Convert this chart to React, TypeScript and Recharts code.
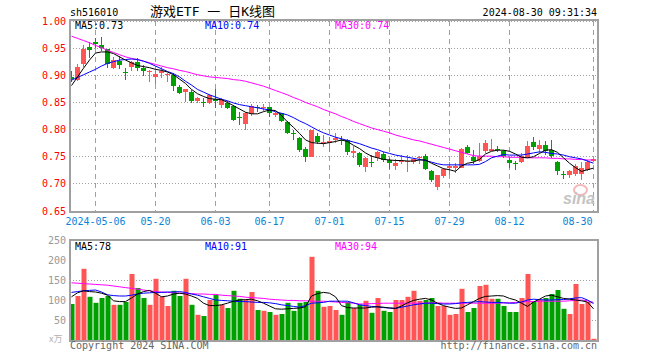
import { Bar, CartesianGrid, Cell, ComposedChart, Line, XAxis, YAxis } from "recharts";

const DATES = [
  "2024-04-25", "2024-04-26", "2024-04-29", "2024-04-30",
  "2024-05-06", "2024-05-07", "2024-05-08", "2024-05-09", "2024-05-10",
  "2024-05-13", "2024-05-14", "2024-05-15", "2024-05-16", "2024-05-17",
  "2024-05-20", "2024-05-21", "2024-05-22", "2024-05-23", "2024-05-24",
  "2024-05-27", "2024-05-28", "2024-05-29", "2024-05-30", "2024-05-31",
  "2024-06-03", "2024-06-04", "2024-06-05", "2024-06-06", "2024-06-07",
  "2024-06-11", "2024-06-12", "2024-06-13", "2024-06-14",
  "2024-06-17", "2024-06-18", "2024-06-19", "2024-06-20", "2024-06-21",
  "2024-06-24", "2024-06-25", "2024-06-26", "2024-06-27", "2024-06-28",
  "2024-07-01", "2024-07-02", "2024-07-03", "2024-07-04", "2024-07-05",
  "2024-07-08", "2024-07-09", "2024-07-10", "2024-07-11", "2024-07-12",
  "2024-07-15", "2024-07-16", "2024-07-17", "2024-07-18", "2024-07-19",
  "2024-07-22", "2024-07-23", "2024-07-24", "2024-07-25", "2024-07-26",
  "2024-07-29", "2024-07-30", "2024-07-31", "2024-08-01", "2024-08-02",
  "2024-08-05", "2024-08-06", "2024-08-07", "2024-08-08", "2024-08-09",
  "2024-08-12", "2024-08-13", "2024-08-14", "2024-08-15", "2024-08-16",
  "2024-08-19", "2024-08-20", "2024-08-21", "2024-08-22", "2024-08-23",
  "2024-08-26", "2024-08-27", "2024-08-28", "2024-08-29", "2024-08-30",
];

const TICK_DATES = [
  "2024-05-06", "2024-05-20", "2024-06-03", "2024-06-17", "2024-07-01",
  "2024-07-15", "2024-07-29", "2024-08-12", "2024-08-30",
];

const PRICE_TICKS = [0.65, 0.7, 0.75, 0.8, 0.85, 0.9, 0.95, 1.0];
const VOLUME_TICKS = [50, 100, 150, 200, 250];

const OPEN = [
  0.897, 0.892, 0.921, 0.953, 0.962, 0.955, 0.948, 0.913, 0.927, 0.906,
  0.916, 0.925, 0.914, 0.906, 0.896, 0.904, 0.9, 0.9, 0.879, 0.87,
  0.87, 0.853, 0.851, 0.849, 0.857, 0.846, 0.849, 0.843, 0.823, 0.811,
  0.829, 0.842, 0.839, 0.841, 0.826, 0.83, 0.814, 0.793, 0.784, 0.765,
  0.75, 0.788, 0.776, 0.775, 0.781, 0.781, 0.781, 0.756, 0.757, 0.731,
  0.74, 0.747, 0.755, 0.744, 0.733, 0.74, 0.74, 0.741, 0.747, 0.752,
  0.723, 0.695, 0.714, 0.73, 0.729, 0.73, 0.767, 0.75, 0.743, 0.76,
  0.76, 0.765, 0.76, 0.744, 0.739, 0.74, 0.749, 0.777, 0.765, 0.771,
  0.763, 0.741, 0.718, 0.717, 0.718, 0.718, 0.726, 0.743,
];
const HIGH = [
  0.907, 0.92, 0.955, 0.962, 0.968, 0.97, 0.949, 0.933, 0.935, 0.914,
  0.927, 0.932, 0.919, 0.91, 0.908, 0.915, 0.905, 0.904, 0.882, 0.875,
  0.873, 0.86, 0.858, 0.865, 0.874, 0.858, 0.852, 0.846, 0.833, 0.833,
  0.847, 0.845, 0.847, 0.841, 0.833, 0.831, 0.816, 0.8, 0.787, 0.768,
  0.8, 0.794, 0.79, 0.787, 0.794, 0.788, 0.782, 0.77, 0.759, 0.75,
  0.753, 0.761, 0.759, 0.747, 0.745, 0.754, 0.753, 0.747, 0.751, 0.755,
  0.726, 0.717, 0.73, 0.741, 0.738, 0.766, 0.772, 0.763, 0.775, 0.781,
  0.783, 0.769, 0.763, 0.75, 0.743, 0.757, 0.779, 0.787, 0.781, 0.779,
  0.781, 0.743, 0.723, 0.726, 0.736, 0.741, 0.744, 0.748,
];
const LOW = [
  0.888, 0.889, 0.916, 0.932, 0.95, 0.945, 0.914, 0.912, 0.912, 0.892,
  0.907, 0.907, 0.898, 0.888, 0.884, 0.895, 0.888, 0.871, 0.865, 0.85,
  0.849, 0.849, 0.841, 0.847, 0.84, 0.839, 0.838, 0.816, 0.809, 0.799,
  0.825, 0.833, 0.835, 0.824, 0.824, 0.814, 0.792, 0.781, 0.759, 0.741,
  0.749, 0.773, 0.768, 0.759, 0.776, 0.771, 0.753, 0.747, 0.731, 0.722,
  0.731, 0.743, 0.741, 0.728, 0.725, 0.736, 0.722, 0.736, 0.736, 0.726,
  0.703, 0.689, 0.711, 0.717, 0.72, 0.729, 0.755, 0.737, 0.741, 0.757,
  0.76, 0.758, 0.748, 0.729, 0.726, 0.738, 0.748, 0.763, 0.757, 0.754,
  0.748, 0.717, 0.709, 0.711, 0.714, 0.708, 0.723, 0.74,
];
const CLOSE = [
  0.893, 0.916, 0.949, 0.947, 0.957, 0.951, 0.92, 0.928, 0.919, 0.905,
  0.925, 0.914, 0.907, 0.908, 0.902, 0.907, 0.902, 0.881, 0.867, 0.874,
  0.853, 0.858, 0.85, 0.864, 0.853, 0.855, 0.84, 0.818, 0.822, 0.83,
  0.843, 0.841, 0.842, 0.83, 0.831, 0.816, 0.794, 0.792, 0.762, 0.75,
  0.799, 0.778, 0.777, 0.779, 0.784, 0.78, 0.759, 0.761, 0.735, 0.747,
  0.739, 0.759, 0.744, 0.738, 0.739, 0.743, 0.743, 0.745, 0.75, 0.728,
  0.708, 0.716, 0.728, 0.732, 0.732, 0.765, 0.757, 0.743, 0.751, 0.775,
  0.764, 0.764, 0.751, 0.738, 0.738, 0.751, 0.769, 0.767, 0.772, 0.761,
  0.751, 0.723, 0.717, 0.724, 0.732, 0.729, 0.741, 0.746,
];

const MA5 = [
  0.881, 0.897, 0.913, 0.928, 0.941, 0.943, 0.943, 0.94, 0.934, 0.928,
  0.923, 0.918, 0.916, 0.914, 0.911, 0.909, 0.906, 0.901, 0.893, 0.885,
  0.874, 0.866, 0.861, 0.857, 0.856, 0.855, 0.85, 0.844, 0.838, 0.832,
  0.829, 0.829, 0.833, 0.836, 0.835, 0.826, 0.814, 0.804, 0.793, 0.781,
  0.776, 0.775, 0.774, 0.776, 0.778, 0.781, 0.778, 0.771, 0.765, 0.757,
  0.751, 0.748, 0.745, 0.744, 0.743, 0.743, 0.742, 0.742, 0.744, 0.744,
  0.738, 0.733, 0.728, 0.726, 0.723, 0.733, 0.738, 0.74, 0.745, 0.755,
  0.76, 0.762, 0.762, 0.76, 0.755, 0.749, 0.748, 0.75, 0.756, 0.762,
  0.763, 0.758, 0.748, 0.738, 0.73, 0.723, 0.726, 0.729,
];
const MA10 = [
  0.891, 0.896, 0.901, 0.906, 0.911, 0.917, 0.922, 0.925, 0.928, 0.929,
  0.93, 0.929, 0.926, 0.922, 0.917, 0.912, 0.907, 0.903, 0.897, 0.889,
  0.882, 0.874, 0.869, 0.864, 0.86, 0.856, 0.853, 0.849, 0.846, 0.844,
  0.842, 0.84, 0.838, 0.836, 0.833, 0.83, 0.827, 0.822, 0.816, 0.811,
  0.805, 0.799, 0.794, 0.79, 0.786, 0.783, 0.78, 0.777, 0.774, 0.77,
  0.766, 0.763, 0.759, 0.756, 0.753, 0.751, 0.749, 0.747, 0.745, 0.743,
  0.74, 0.737, 0.735, 0.735, 0.735, 0.735, 0.735, 0.735, 0.736, 0.741,
  0.748, 0.751, 0.754, 0.753, 0.753, 0.753, 0.755, 0.757, 0.759, 0.758,
  0.756, 0.755, 0.753, 0.75, 0.748, 0.746, 0.742, 0.738,
];
const MA30 = [
  0.972, 0.968, 0.964, 0.96, 0.955, 0.951, 0.946, 0.942, 0.938, 0.934,
  0.931, 0.929, 0.926, 0.923, 0.92, 0.917, 0.914, 0.912, 0.909, 0.907,
  0.904, 0.901, 0.899, 0.897, 0.896, 0.895, 0.894, 0.892, 0.891, 0.889,
  0.886, 0.883, 0.88, 0.876, 0.872, 0.868, 0.864, 0.859, 0.855, 0.85,
  0.846, 0.842, 0.837, 0.833, 0.829, 0.824, 0.82, 0.815, 0.811, 0.807,
  0.803, 0.8, 0.797, 0.794, 0.79, 0.787, 0.784, 0.781, 0.779, 0.776,
  0.773, 0.77, 0.767, 0.764, 0.761, 0.758, 0.755, 0.752, 0.751, 0.751,
  0.751, 0.75, 0.75, 0.749, 0.749, 0.749, 0.748, 0.748, 0.748, 0.748,
  0.747, 0.747, 0.746, 0.746, 0.745, 0.745, 0.744, 0.744,
];

// 成交量（万手）
const VOLUME = [
  90, 110, 178, 108, 93, 105, 110, 88, 88, 95,
  165, 130, 105, 88, 153, 108, 85, 123, 110, 153,
  88, 63, 60, 100, 113, 88, 80, 123, 103, 100,
  120, 75, 73, 70, 63, 65, 93, 73, 93, 95,
  208, 123, 83, 85, 75, 63, 95, 80, 88, 98,
  68, 105, 73, 70, 100, 100, 108, 123, 98, 100,
  105, 85, 85, 63, 65, 128, 70, 80, 135, 138,
  103, 103, 85, 70, 70, 105, 165, 95, 100, 105,
  115, 125, 78, 65, 140, 90, 95, 3,
];
const VOL_MA5 = [
  108, 118, 123, 121, 120, 117, 112, 98, 96, 96,
  105, 115, 121, 124, 117, 108, 110, 115, 117, 115,
  110, 104, 92, 86, 86, 88, 92, 97, 100, 101,
  102, 98, 92, 85, 78, 77, 78, 79, 80, 83,
  110, 116, 119, 117, 108, 86, 81, 80, 80, 80,
  82, 83, 82, 80, 79, 85, 93, 99, 102, 104,
  100, 92, 86, 82, 79, 80, 88, 96, 104, 109,
  110, 111, 110, 104, 100, 92, 84, 95, 102, 110,
  112, 108, 104, 102, 100, 98, 95, 78,
];
const VOL_MA10 = [
  119, 121, 123, 124, 125, 120, 113, 111, 110, 110,
  112, 115, 117, 118, 119, 119, 120, 120, 121, 119,
  115, 112, 108, 104, 100, 99, 98, 97, 96, 96,
  95, 94, 94, 93, 91, 88, 86, 84, 82, 86,
  92, 93, 94, 97, 97, 97, 97, 93, 88, 86,
  84, 83, 81, 80, 79, 82, 85, 88, 90, 92,
  92, 91, 90, 90, 91, 93, 94, 95, 96, 95,
  94, 94, 93, 92, 92, 95, 100, 102, 101, 100,
  100, 101, 101, 103, 105, 106, 100, 91,
];
const VOL_MA30 = [
  143, 142, 141, 140, 139, 138, 137, 135, 133, 131,
  129, 127, 125, 123, 121, 120, 119, 118, 117, 116,
  116, 115, 115, 114, 114, 112, 111, 110, 109, 107,
  106, 105, 104, 102, 101, 100, 99, 99, 98, 98,
  97, 97, 97, 96, 95, 94, 93, 92, 90, 90,
  91, 91, 92, 92, 92, 92, 92, 92, 92, 92,
  93, 93, 92, 92, 92, 92, 92, 92, 92, 92,
  92, 92, 93, 93, 94, 95, 96, 96, 97, 97,
  97, 97, 97, 98, 99, 100, 98, 94,
];

const UP = "#ff5555";
const DOWN = "#00a000";
const GRID = "#a0a0a0";
const FONT = "'DejaVu Sans Mono', monospace";

const rows = DATES.map((date, i) => ({
  date,
  open: OPEN[i],
  high: HIGH[i],
  low: LOW[i],
  close: CLOSE[i],
  ma5: MA5[i],
  ma10: MA10[i],
  ma30: MA30[i],
  vol: VOLUME[i],
  vma5: VOL_MA5[i],
  vma10: VOL_MA10[i],
  vma30: VOL_MA30[i],
}));

function Candle(props: any) {
  const { x, y, width, height, payload } = props;
  if (x == null || y == null || !payload) return null;
  const top = Math.min(y, y + height);
  const h = Math.abs(height);
  const { open, close, high, low } = payload;
  const span = high - low || 1;
  const toY = (v: number) => top + ((high - v) / span) * h;
  const cx = x + width / 2;
  const color = close >= open ? UP : DOWN;
  const bodyTop = toY(Math.max(open, close));
  const bodyH = Math.max(1, toY(Math.min(open, close)) - bodyTop);
  return (
    <g shapeRendering="crispEdges">
      <line x1={cx} x2={cx} y1={top} y2={top + h} stroke={color} strokeWidth={1} />
      <rect x={cx - 2.5} y={bodyTop} width={5} height={bodyH} fill={color} />
    </g>
  );
}

function DateTick(props: any) {
  const { x, y, payload } = props;
  const v: string = payload.value;
  const isFirst = v === TICK_DATES[0];
  const isLast = v === TICK_DATES[TICK_DATES.length - 1];
  return (
    <text
      x={isLast ? x - 1 : x}
      y={y}
      dy="0.71em"
      textAnchor={isLast ? "end" : "middle"}
      fill="#0a84d8"
      fontSize={10}
      fontFamily={FONT}
    >
      {isFirst ? v : v.slice(5)}
    </text>
  );
}

const abs = (style: any) => ({ position: "absolute" as const, whiteSpace: "pre" as const, lineHeight: "12px", ...style });

export default function App() {
  return (
    <div
      style={{
        position: "absolute",
        left: 0,
        top: 0,
        width: 660,
        height: 360,
        background: "#fff",
        fontFamily: FONT,
        fontSize: 10,
      }}
    >
      <span style={abs({ left: 70, top: 7, color: "#000" })}>sh516010</span>
      <span
        style={abs({
          left: 150,
          top: 4,
          fontSize: 13,
          lineHeight: "16px",
          color: "#000",
          fontFamily: "'DejaVu Sans Mono', 'Noto Sans CJK SC', monospace",
        })}
      >
        游戏ETF 一 日K线图
      </span>
      <span style={abs({ right: 63, top: 7, color: "#000" })}>2024-08-30 09:31:34</span>

      <div style={{ position: "absolute", left: 0, top: 0 }}>
        <ComposedChart width={660} height={230} data={rows} margin={{ top: 21, right: 63, bottom: 0, left: 0 }}>
          <CartesianGrid stroke={GRID} horizontal={false} strokeDasharray="5 4" shapeRendering="crispEdges" />
          <CartesianGrid stroke={GRID} vertical={false} strokeDasharray="1 2" shapeRendering="crispEdges" />
          <XAxis
            dataKey="date"
            ticks={TICK_DATES}
            interval={0}
            height={19}
            padding={{ left: -1.5, right: 0.5 }}
            axisLine={false}
            tickLine={false}
            tickSize={0}
            tickMargin={7}
            tick={<DateTick />}
          />
          <YAxis
            domain={[0.65, 1.0]}
            ticks={PRICE_TICKS}
            allowDataOverflow
            width={70}
            axisLine={false}
            tickLine={false}
            tickSize={0}
            tickMargin={4}
            tick={{ fill: "#ff0000", fontSize: 10, fontFamily: FONT }}
            tickFormatter={(v: number) => v.toFixed(2)}
          />
          <Bar
            dataKey={(d: any) => [d.low, d.high]}
            barSize={6}
            shape={(p: any) => <Candle {...p} />}
            isAnimationActive={false}
          />
          <Line dataKey="ma30" stroke="#ff00ff" strokeWidth={1} dot={false} isAnimationActive={false} />
          <Line dataKey="ma10" stroke="#0000ff" strokeWidth={1} dot={false} isAnimationActive={false} />
          <Line dataKey="ma5" stroke="#000000" strokeWidth={1} dot={false} isAnimationActive={false} />
        </ComposedChart>
      </div>

      <div style={{ position: "absolute", left: 0, top: 230 }}>
        <ComposedChart width={660} height={130} data={rows} margin={{ top: 10, right: 63, bottom: 0, left: 0 }}>
          <CartesianGrid stroke={GRID} horizontal={false} strokeDasharray="5 4" shapeRendering="crispEdges" />
          <CartesianGrid stroke={GRID} vertical={false} strokeDasharray="1 2" shapeRendering="crispEdges" />
          <XAxis
            dataKey="date"
            ticks={TICK_DATES}
            interval={0}
            height={20}
            padding={{ left: -1.5, right: 0.5 }}
            axisLine={false}
            tickLine={false}
            tick={false}
          />
          <YAxis
            domain={[0, 250]}
            ticks={VOLUME_TICKS}
            allowDataOverflow
            width={70}
            axisLine={false}
            tickLine={false}
            tickSize={0}
            tickMargin={4}
            tick={{ fill: "#999999", fontSize: 10, fontFamily: FONT }}
          />
          <Bar dataKey="vol" barSize={5} isAnimationActive={false}>
            {rows.map((r) => (
              <Cell key={r.date} fill={r.close >= r.open ? UP : DOWN} />
            ))}
          </Bar>
          <Line dataKey="vma30" stroke="#ff00ff" strokeWidth={1} dot={false} isAnimationActive={false} />
          <Line dataKey="vma10" stroke="#0000ff" strokeWidth={1} dot={false} isAnimationActive={false} />
          <Line dataKey="vma5" stroke="#000000" strokeWidth={1} dot={false} isAnimationActive={false} />
        </ComposedChart>
      </div>

      {/* frames */}
      <div style={{ position: "absolute", left: 69, top: 19, width: 530, height: 194, border: "2px solid #a0a0a0", boxSizing: "border-box" }} />
      <div style={{ position: "absolute", left: 69, top: 239, width: 530, height: 103, border: "2px solid #a0a0a0", boxSizing: "border-box" }} />

      <span style={abs({ left: 75, top: 20, color: "#000" })}>MA5:0.73</span>
      <span style={abs({ left: 205, top: 20, color: "#0000ff" })}>MA10:0.74</span>
      <span style={abs({ left: 335, top: 20, color: "#ff00ff" })}>MA30:0.74</span>

      <span style={abs({ left: 75, top: 241, color: "#000" })}>MA5:78</span>
      <span style={abs({ left: 205, top: 241, color: "#0000ff" })}>MA10:91</span>
      <span style={abs({ left: 335, top: 241, color: "#ff00ff" })}>MA30:94</span>

      {/* sina watermark */}
      <div
        style={{
          position: "absolute",
          left: 573,
          top: 184,
          width: 11,
          height: 8,
          border: "2px solid #f2b8b8",
          borderRadius: "50%",
        }}
      />
      <span
        style={abs({
          left: 563,
          top: 191,
          fontSize: 16,
          lineHeight: "16px",
          fontStyle: "italic",
          fontWeight: "bold",
          color: "#c4c4c4",
          fontFamily: "'Liberation Sans', sans-serif",
        })}
      >
        sina
      </span>

      <span style={abs({ left: 49, top: 333, fontSize: 9, color: "#b0b0b0", fontFamily: "'Noto Sans CJK SC', sans-serif" })}>x万</span>
      <span style={abs({ left: 70, top: 340, color: "#666" })}>Copyright 2024 SINA.COM</span>
      <span style={abs({ right: 63, top: 340, color: "#666" })}>http://finance.sina.com.cn</span>
    </div>
  );
}
